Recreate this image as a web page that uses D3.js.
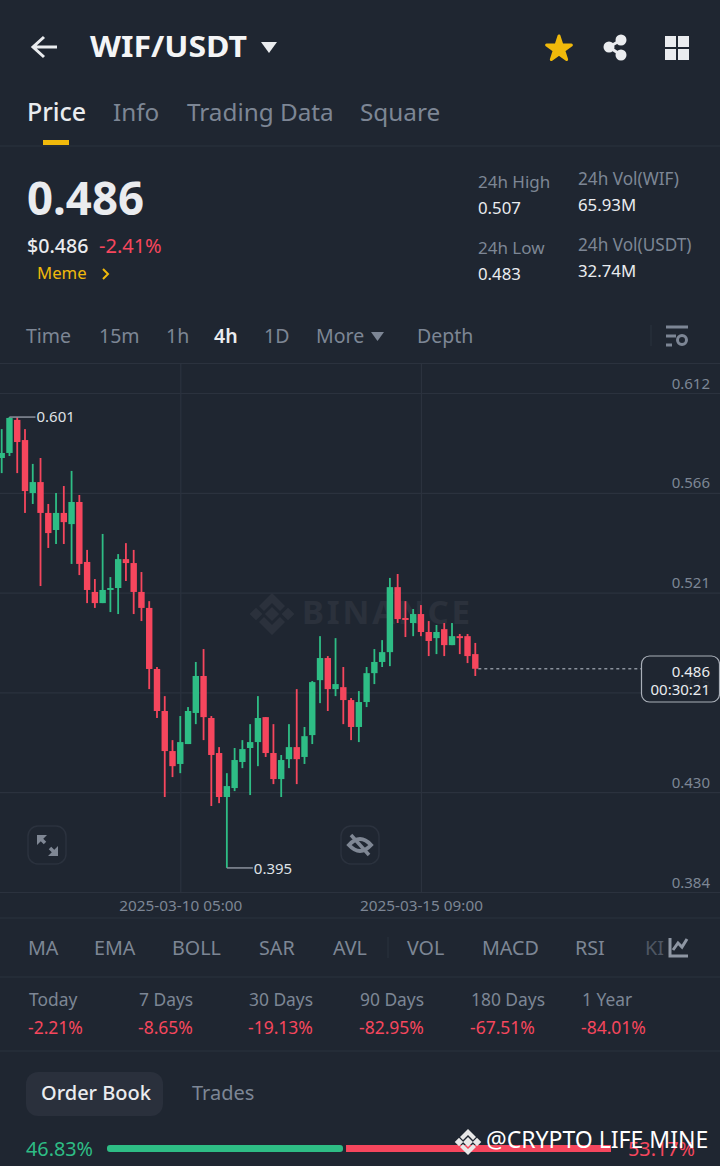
<!DOCTYPE html>
<html>
<head>
<meta charset="utf-8">
<script src="https://cdn.jsdelivr.net/npm/d3@7"></script>
<style>
  html, body { margin: 0; background: #1f2631; }
  svg { display: block; }
  text { font-family: "Noto Sans", Roboto, sans-serif; }
</style>
</head>
<body>
<svg id="chart" width="720" height="1166"></svg>
<script>
// candles, 4h each
const opens = [.5823,.5846,.5997,.5905,.5663,.5713,.5572,.5494,.5572,.5521,.5622,.5348,.5211,.5160,.5220,.5229,.5361,.5343,.5211,.5138,.4859,.4667,.4484,.4425,.4516,.4658,.4827,.4635,.4475,.4274,.4315,.4434,.4498,.4525,.4639,.4475,.4356,.4447,.4502,.4457,.4557,.4808,.4909,.4767,.4776,.4717,.4594,.4708,.4840,.4891,.4936,.5233,.5092,.5069,.5110,.5028,.5000,.5041,.4968,.5009,.5009,.4927];
const highs = [.5955,.6010,.6010,.5955,.5796,.5823,.5613,.5663,.5695,.5764,.5654,.5403,.5270,.5476,.5279,.5384,.5434,.5403,.5302,.5169,.4868,.4735,.4534,.4644,.4685,.4891,.4950,.4644,.4502,.4383,.4498,.4534,.4607,.4735,.4639,.4607,.4466,.4607,.4767,.4594,.4804,.5009,.4918,.5000,.4868,.4726,.4758,.4868,.4950,.4991,.5275,.5293,.5169,.5133,.5151,.5078,.5060,.5069,.5069,.5019,.5019,.4978];
const lows = [.5754,.5832,.5754,.5572,.5613,.5238,.5412,.5430,.5430,.5339,.5288,.5160,.5138,.5160,.5119,.5110,.5261,.5110,.5078,.4767,.4635,.4274,.4365,.4383,.4516,.4607,.4534,.4233,.4246,.3950,.4301,.4406,.4283,.4415,.4457,.4333,.4274,.4406,.4333,.4425,.4516,.4703,.4667,.4735,.4607,.4534,.4525,.4685,.4790,.4868,.4872,.5069,.5005,.5009,.5009,.4918,.4927,.4918,.4968,.4927,.4886,.4827];
const closes = [.5846,.6006,.5896,.5672,.5713,.5572,.5480,.5572,.5530,.5622,.5339,.5220,.5160,.5220,.5229,.5361,.5343,.5211,.5138,.4859,.4667,.4484,.4415,.4525,.4667,.4827,.4639,.4466,.4274,.4324,.4443,.4493,.4525,.4635,.4475,.4356,.4443,.4502,.4447,.4552,.4799,.4909,.4767,.4790,.4717,.4594,.4708,.4840,.4891,.4936,.5233,.5087,.5083,.5110,.5028,.4987,.5028,.4968,.5009,.5000,.4918,.4860];

const priceTicks = [0.612, 0.5664, 0.5208, 0.4752, 0.4296, 0.384];
const dateTickIdx = [23, 54];
const dateTickLabels = ["2025-03-10 05:00", "2025-03-15 09:00"];
const highPrice = 0.601, highIdx = 1;
const lowPrice = 0.395, lowIdx = 29;
const lastPrice = 0.486, countdown = "00:30:21";

const tabs = ["Price", "Info", "Trading Data", "Square"];
const intervals = ["Time", "15m", "1h", "4h", "1D", "More", "Depth"];
const indicators = ["MA", "EMA", "BOLL", "SAR", "AVL", "VOL", "MACD", "RSI"];
const periods = ["Today", "7 Days", "30 Days", "90 Days", "180 Days", "1 Year"];
const periodChanges = ["-2.21%", "-8.65%", "-19.13%", "-82.95%", "-67.51%", "-84.01%"];
const bidPct = 46.83, askPct = 53.17;

const green = "#2ebd85", red = "#f6465d", yellow = "#f0b90b";
const white = "#eaecef", gray = "#7d8695", dim = "#2b323e";

const svg = d3.select("#chart");
const fmt = d3.format(".3f");

const x = d3.scaleLinear().domain([0, 61]).range([1.7, 475.3]);
const y = d3.scaleLinear().domain([0.384, 0.612]).range([892, 393]);

function label(px, py, str, size, color, weight, anchor) {
    return svg.append("text")
        .attr("x", px).attr("y", py + 2) // noto sits a bit high on middle
        .attr("dominant-baseline", "middle")
        .attr("text-anchor", anchor || "start")
        .attr("font-size", size)
        .attr("font-weight", weight || 400)
        .attr("fill", color)
        .text(str);
}
function hline(py) {
    svg.append("line").attr("x1", 0).attr("x2", 720).attr("y1", py).attr("y2", py)
        .attr("stroke", dim).attr("stroke-width", 1.2);
}

// header
svg.append("path").attr("d", "M33 47H57M44 37L33 47L44 57")
    .attr("fill", "none").attr("stroke", white).attr("stroke-width", 3);
label(90, 47, "WIF/USDT", 29, "#f4f5f6", 700).attr("textLength", 157).attr("lengthAdjust", "spacingAndGlyphs");
svg.append("path").attr("d", "M261 42H277L269 53Z").attr("fill", white);
svg.append("path").attr("fill", yellow).attr("stroke", yellow).attr("stroke-width", 3).attr("stroke-linejoin", "round")
    .attr("d", d3.symbol(d3.symbolStar, 190)()).attr("transform", "translate(559,49)");
svg.append("path").attr("d", "M621 40L609 47L621 55").attr("fill", "none").attr("stroke", white).attr("stroke-width", 3);
[[621, 40], [609, 47], [621, 55]].forEach(p => svg.append("circle").attr("cx", p[0]).attr("cy", p[1]).attr("r", 5.5).attr("fill", white));
[[665, 36, 11], [678, 36, 11], [665, 49, 11], [678, 49, 11]].forEach(p =>
    svg.append("rect").attr("x", p[0]).attr("y", p[1]).attr("width", p[2]).attr("height", p[2]).attr("fill", white));

// tabs
const tabX = [27, 113, 187, 360];
tabs.forEach((t, i) => label(tabX[i], 112, t, i == 0 ? 25 : 24.3, i == 0 ? white : gray, i == 0 ? 500 : 400));
svg.append("rect").attr("x", 43).attr("y", 140).attr("width", 26).attr("height", 5).attr("fill", yellow);
hline(146);

// price block
label(27, 200, "0.486", 47, white, 700).attr("textLength", 117).attr("lengthAdjust", "spacingAndGlyphs");
label(27, 246, "$0.486", 19.6, white, 500);
label(99, 246, "-2.41%", 20, red);
label(37, 273, "Meme", 16.7, yellow);
svg.append("path").attr("d", "M103 269L108 274L103 279").attr("fill", "none").attr("stroke", yellow).attr("stroke-width", 2);
label(478, 181, "24h High", 17, gray);
label(478, 207, "0.507", 16.8, white);
label(478, 247, "24h Low", 17, gray);
label(478, 273, "0.483", 16.8, white);
label(578, 178, "24h Vol(WIF)", 17.2, gray);
label(578, 204, "65.93M", 16.8, white);
label(578, 244, "24h Vol(USDT)", 17.2, gray);
label(578, 270, "32.74M", 16.8, white);

// interval row
const intervalX = [26, 99, 166, 214, 264, 316, 417];
intervals.forEach((t, i) => label(intervalX[i], 336, t, 19.5, i == 3 ? white : gray, i == 3 ? 600 : 400));
svg.append("path").attr("d", "M371 332H384L377.5 341Z").attr("fill", gray);
svg.append("line").attr("x1", 651).attr("x2", 651).attr("y1", 325).attr("y2", 346).attr("stroke", dim);
svg.append("path").attr("d", "M666 327H688M666 336H676M666 345H672").attr("stroke", gray).attr("stroke-width", 3);
svg.append("circle").attr("cx", 682).attr("cy", 340).attr("r", 4.5).attr("fill", "none").attr("stroke", gray).attr("stroke-width", 3);
hline(363.5);

// watermark
const logo = svg.append("g").attr("transform", "translate(272,614)").attr("fill", "#fff").attr("opacity", 0.05);
[[0, 0, 5], [-16, 0, 4.5], [16, 0, 4.5]].forEach(d =>
    logo.append("rect").attr("x", d[0] - d[2]).attr("y", d[1] - d[2]).attr("width", 2 * d[2]).attr("height", 2 * d[2])
        .attr("transform", `rotate(45 ${d[0]} ${d[1]})`));
logo.append("path").attr("d", "M0 -21L13 -8L8 -3L0 -11L-8 -3L-13 -8ZM0 21L13 8L8 3L0 11L-8 3L-13 8Z");
label(302, 613, "BINANCE", 33, "#fff", 700).attr("opacity", 0.05).attr("textLength", 168);

// grid + axes
const yAxis = svg.append("g")
    .call(d3.axisRight(y).tickValues(priceTicks).tickSize(720).tickFormat(fmt));
yAxis.select(".domain").remove();
yAxis.selectAll("line").attr("stroke", dim).attr("stroke-width", 1.2);
yAxis.selectAll("text")
    .attr("x", 710).attr("dy", 0).attr("y", -9)
    .attr("text-anchor", "end").attr("dominant-baseline", "middle")
    .attr("font-size", 15).attr("font-family", "Roboto").attr("fill", gray);

const xAxis = svg.append("g").attr("transform", "translate(0,892)")
    .call(d3.axisBottom(x).tickValues(dateTickIdx).tickSize(-528)
        .tickFormat((d, i) => dateTickLabels[i]));
xAxis.select(".domain").remove();
xAxis.selectAll("line").attr("stroke", dim).attr("stroke-width", 1.2);
xAxis.selectAll("text")
    .attr("y", 15).attr("dy", 0).attr("dominant-baseline", "middle")
    .attr("font-size", 15.3).attr("font-family", "Roboto").attr("fill", gray);
hline(918);

// candles
const candles = svg.append("g").selectAll("g")
    .data(d3.range(opens.length))
    .join("g")
    .attr("fill", i => closes[i] >= opens[i] ? green : red);
candles.append("rect")
    .attr("x", i => x(i) - 0.9).attr("width", 1.8)
    .attr("y", i => y(highs[i]))
    .attr("height", i => y(lows[i]) - y(highs[i]));
candles.append("rect")
    .attr("x", i => x(i) - 3.2).attr("width", 6.4)
    .attr("y", i => y(Math.max(opens[i], closes[i])))
    .attr("height", i => Math.max(1.5, Math.abs(y(opens[i]) - y(closes[i]))));

// high / low markers
[[highIdx, highPrice], [lowIdx, lowPrice]].forEach((m, i) => {
    const px = x(m[0]), py = y(m[1]);
    svg.append("line").attr("x1", px).attr("x2", px + 26).attr("y1", py).attr("y2", py)
        .attr("stroke", "#8a919c").attr("stroke-width", 1.5);
    label(px + 27, py + (i == 0 ? -1 : 0), fmt(m[1]), 15, "#dfe2e6").attr("font-family", "Roboto");
});

// last price line + box
svg.append("line").attr("x1", x(61) + 3).attr("x2", 641).attr("y1", y(lastPrice)).attr("y2", y(lastPrice))
    .attr("stroke", "#8a919c").attr("stroke-dasharray", "3 3").attr("stroke-width", 1.4);
svg.append("rect").attr("x", 641.5).attr("y", 656).attr("width", 78).attr("height", 46).attr("rx", 8)
    .attr("fill", "#1f2631").attr("fill-opacity", 0.92).attr("stroke", "#a9afb8").attr("stroke-width", 1.2);
label(710, 671, fmt(lastPrice), 15, white, 400, "end").attr("font-family", "Roboto");
label(710, 689, countdown, 15, white, 400, "end").attr("font-family", "Roboto");

// chart buttons
[28, 341].forEach(bx => svg.append("rect").attr("x", bx).attr("y", 826).attr("width", 38).attr("height", 38).attr("rx", 10)
    .attr("fill", "none").attr("stroke", dim).attr("stroke-width", 1.5));
svg.append("path").attr("d", "M40 838L45 843M50 848L56 854").attr("stroke", "#7f8794").attr("stroke-width", 3.5);
svg.append("path").attr("d", "M37 835H47L37 845ZM58 856H48L58 846Z").attr("fill", "#7f8794");
svg.append("path").attr("d", "M349 845Q360 833 371 845Q360 857 349 845Z").attr("fill", "none").attr("stroke", "#7f8794").attr("stroke-width", 4);
svg.append("path").attr("d", "M351 835L369 855").attr("stroke", "#7f8794").attr("stroke-width", 3.5);

// indicator row
const indicatorX = [28, 94, 172, 259, 333, 407, 482, 575];
indicators.forEach((t, i) => label(indicatorX[i], 948, t, 19.7, gray));
label(645, 948, "KI", 19.7, gray).attr("opacity", 0.5);
svg.append("line").attr("x1", 388).attr("x2", 388).attr("y1", 937).attr("y2", 958).attr("stroke", dim);
svg.append("path").attr("d", "M670 938V956H688M673 950L678 943L682 947L687 939").attr("fill", "none").attr("stroke", "#8e96a3").attr("stroke-width", 3);
hline(977);

// period changes
const periodX = [29, 139, 249, 360, 471, 582];
periods.forEach((t, i) => label(periodX[i], 999.5, t, 17.4, gray));
periodChanges.forEach((t, i) => label(periodX[i] - 1, 1027, t, 17.5, red));
hline(1051);

// order book
svg.append("rect").attr("x", 26).attr("y", 1072).attr("width", 137).attr("height", 44).attr("rx", 12).attr("fill", "#2a303c");
label(41, 1093, "Order Book", 20, white, 500);
label(192, 1093, "Trades", 20, gray);

const barX = d3.scaleLinear().domain([0, 100]).range([107, 611]);
label(26, 1149, bidPct.toFixed(2) + "%", 19.8, green);
svg.append("rect").attr("x", barX(0)).attr("y", 1145).attr("height", 7).attr("rx", 3)
    .attr("width", barX(bidPct) - barX(0)).attr("fill", green);
svg.append("rect").attr("x", barX(bidPct) + 3).attr("y", 1145).attr("height", 7)
    .attr("width", barX(100) - barX(bidPct) - 3).attr("fill", red);
label(628, 1149, askPct.toFixed(2) + "%", 19.8, red);

// overlay credit
const mark = svg.append("g").attr("transform", "translate(468,1142)").attr("fill", "#e8e8e8");
[[0, 0, 3.5], [-9, 0, 3], [9, 0, 3]].forEach(d =>
    mark.append("rect").attr("x", d[0] - d[2]).attr("y", d[1] - d[2]).attr("width", 2 * d[2]).attr("height", 2 * d[2])
        .attr("transform", `rotate(45 ${d[0]} ${d[1]})`));
mark.append("path").attr("d", "M0 -13L8 -5L5 -2L0 -7L-5 -2L-8 -5ZM0 13L8 5L5 2L0 7L-5 2L-8 5Z");
label(486, 1140, "@CRYPTO LIFE MINE", 23, "#fff");
</script>
</body>
</html>
